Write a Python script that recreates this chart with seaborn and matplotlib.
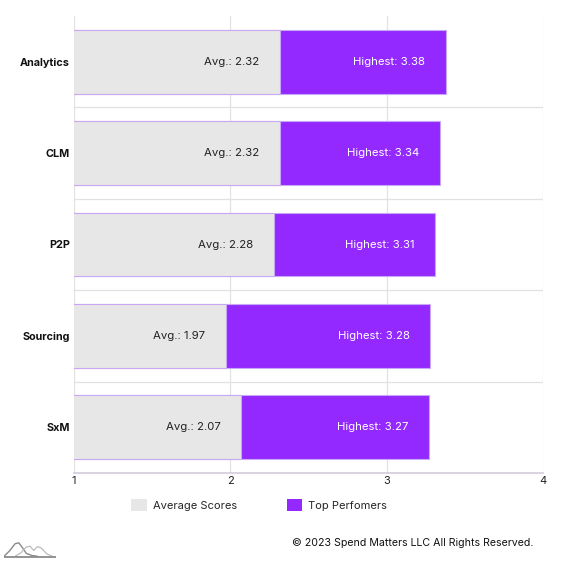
import matplotlib
matplotlib.use("Agg")
import matplotlib.pyplot as plt
import seaborn as sns
import pandas as pd
from matplotlib.patches import Patch

categories = ["Analytics", "CLM", "P2P", "Sourcing", "SxM"]
avg_scores = [2.32, 2.32, 2.28, 1.97, 2.07]
top_scores = [3.38, 3.34, 3.31, 3.28, 3.27]
x_ticks = [1, 2, 3, 4]

GREY = "#E7E7E7"
PURPLE = "#9329FF"
EDGE = "#C8A8F5"

sns.set_theme(style="white")
plt.rcParams["font.family"] = ["Inter", "DejaVu Sans"]

df = pd.DataFrame({"cat": categories, "avg": avg_scores, "top": top_scores})

fig = plt.figure(figsize=(5.63, 5.63), dpi=100)
ax = fig.add_axes([74/563, 1-473/563, (543-74)/563, (473-16)/563])

sns.barplot(data=df, y="cat", x="top", color=PURPLE, saturation=1, width=0.7,
            edgecolor=EDGE, linewidth=0.8, ax=ax, orient="h", zorder=3)
sns.barplot(data=df, y="cat", x="avg", color=GREY, saturation=1, width=0.7,
            edgecolor=EDGE, linewidth=0.8, ax=ax, orient="h", zorder=4)

ax.set_xlim(1, 4)
ax.set_ylim(4.5, -0.5)
ax.set_xticks(x_ticks)
ax.set_xticklabels([str(t) for t in x_ticks], fontsize=8, color="#222222")
ax.set_xlabel("")
ax.set_ylabel("")
ax.set_yticks(range(len(categories)))
ax.set_yticklabels(categories, fontsize=7.8, fontweight="bold", color="#111111")
ax.set_yticks([0.5, 1.5, 2.5, 3.5], minor=True)
ax.tick_params(axis="both", which="both", length=0)
ax.tick_params(axis="y", pad=3)
ax.tick_params(axis="x", pad=2)
ax.grid(axis="x", which="major", color="#E2E2E2", linewidth=0.9, zorder=0)
ax.grid(axis="y", which="minor", color="#E2E2E2", linewidth=0.9, zorder=0)
ax.grid(axis="y", which="major", visible=False)
for s in ["top", "left", "right"]:
    ax.spines[s].set_visible(False)
ax.spines["bottom"].set_color("#D2CCDA")
ax.spines["bottom"].set_linewidth(1.2)

for i, (a, t) in enumerate(zip(avg_scores, top_scores)):
    ax.annotate(f"Avg.: {a:.2f}", xy=(a, i), xytext=(-15, 0), textcoords="offset points",
                ha="right", va="center", fontsize=8.2, color="#222222", zorder=5)
    ax.annotate(f"Highest: {t:.2f}", xy=(t, i), xytext=(-15, 0), textcoords="offset points",
                ha="right", va="center", fontsize=8.2, color="white", zorder=5)

handles = [Patch(facecolor=GREY, edgecolor="none", label="Average Scores"),
           Patch(facecolor=PURPLE, edgecolor="none", label="Top Perfomers")]
fig.legend(handles=handles, loc="center", bbox_to_anchor=(259/563, 1-505/563), ncol=2,
           frameon=False, fontsize=8, handlelength=1.4, handleheight=1.4,
           handletextpad=0.5, columnspacing=4.5)

fig.text(533/563, 1-543/563, "© 2023 Spend Matters LLC All Rights Reserved.",
         ha="right", va="center", fontsize=7.65, color="#111111")

# small logo bottom-left
lax = fig.add_axes([4/563, 1-558/563, 52/563, 16/563])
lax.plot([0, 1.5, 3, 4, 5, 6, 7.5, 9], [0.2, 1.5, 3.2, 3.4, 2.2, 0.9, 0.4, 0.2], color="#8A8A8A", lw=1.0)
lax.plot([3, 4.5, 6, 7, 8, 9, 10, 11.5, 13], [0.2, 1.0, 2.4, 2.6, 1.6, 2.5, 2.2, 0.8, 0.2], color="#BBBBBB", lw=0.9)
lax.plot([0, 14], [0, 0], color="#8A8A8A", lw=1.3)
lax.set_xlim(0, 14)
lax.set_ylim(-0.2, 3.6)
lax.axis("off")

fig.savefig("out.png", dpi=100)
